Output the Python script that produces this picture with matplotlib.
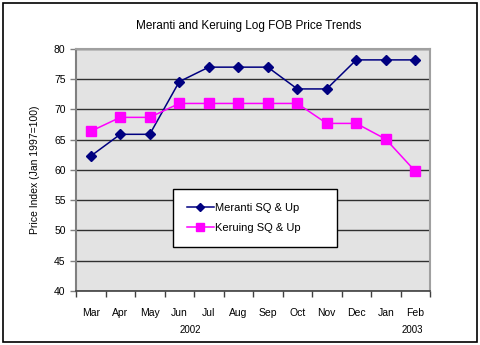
import numpy as np
import matplotlib.pyplot as plt
from matplotlib.patches import Rectangle

plt.rcParams['font.family'] = ['Liberation Sans', 'DejaVu Sans']

# data
months = ["Mar", "Apr", "May", "Jun", "Jul", "Aug", "Sep", "Oct", "Nov", "Dec", "Jan", "Feb"]
meranti = [62.3, 65.9, 65.9, 74.6, 77.0, 77.0, 77.0, 73.4, 73.4, 78.2, 78.2, 78.2]
keruing = [66.4, 68.7, 68.7, 71.0, 71.0, 71.0, 71.0, 71.0, 67.7, 67.7, 65.1, 59.8]
years = ["2002", "2003"]

fig = plt.figure(figsize=(4.8, 3.45), dpi=100)
fig.patches.append(Rectangle((3 / 480, 3 / 345), 474 / 480, 339 / 345, transform=fig.transFigure,
                             fill=False, edgecolor="black", linewidth=1.2))
ax = fig.add_axes([76 / 480, 54 / 345, 354 / 480, 242 / 345])
ax.set_facecolor("#E3E3E3")

x = np.arange(len(months)) + 0.5
ax.plot(x, meranti, color="#000080", marker="D", markersize=5.5, linewidth=1.1, label="Meranti SQ & Up", zorder=3)
ax.plot(x, keruing, color="#FF00FF", marker="s", markersize=7.5, linewidth=1.1, label="Keruing SQ & Up", zorder=3)

ax.set_xlim(0, len(months))
ax.set_ylim(40, 80)
ax.set_yticks(np.arange(40, 81, 5))
ax.set_xticks(np.arange(0, len(months) + 1))
ax.set_xticklabels([])
ax.tick_params(axis="y", labelsize=7.5, length=4, direction="out", color="#808080", width=1)
ax.tick_params(axis="x", length=4, direction="out", color="#404040", width=1)
ax.yaxis.grid(True, color="#303030", linewidth=1.0)
ax.set_axisbelow(True)
for s in ["top", "right"]:
    ax.spines[s].set_color("#A0A0A0")
    ax.spines[s].set_linewidth(1.5)
ax.spines["left"].set_color("#808080")
ax.spines["left"].set_linewidth(1.5)
ax.spines["bottom"].set_color("#404040")
ax.spines["bottom"].set_linewidth(1.2)

for xi, m in zip(x, months):
    ax.text(xi, -0.09, m, transform=ax.get_xaxis_transform(), ha="center", va="center", fontsize=7.5)
ax.text(3.86, -0.16, years[0], transform=ax.get_xaxis_transform(), ha="center", va="center", fontsize=7)
ax.text(11.4, -0.16, years[1], transform=ax.get_xaxis_transform(), ha="center", va="center", fontsize=7)

ax.set_ylabel("Price Index (Jan 1997=100)", fontsize=7.5, labelpad=10)
fig.text(249 / 480, 1 - 26 / 345, "Meranti and Keruing Log FOB Price Trends", ha="center", va="center", fontsize=8.5)

leg = ax.legend(loc="center", bbox_to_anchor=(0.274, 0.178, 0.463, 0.248), mode="expand", fontsize=8,
                frameon=True, fancybox=False, edgecolor="black", framealpha=1, borderpad=1.25,
                handlelength=2.4, handletextpad=0.15, labelspacing=0.9, borderaxespad=0)
leg.get_frame().set_linewidth(1.0)
for h in leg.legend_handles:
    h.set_markersize(4.5 if h.get_marker() == "D" else 6)

fig.savefig("out.png", dpi=100)
